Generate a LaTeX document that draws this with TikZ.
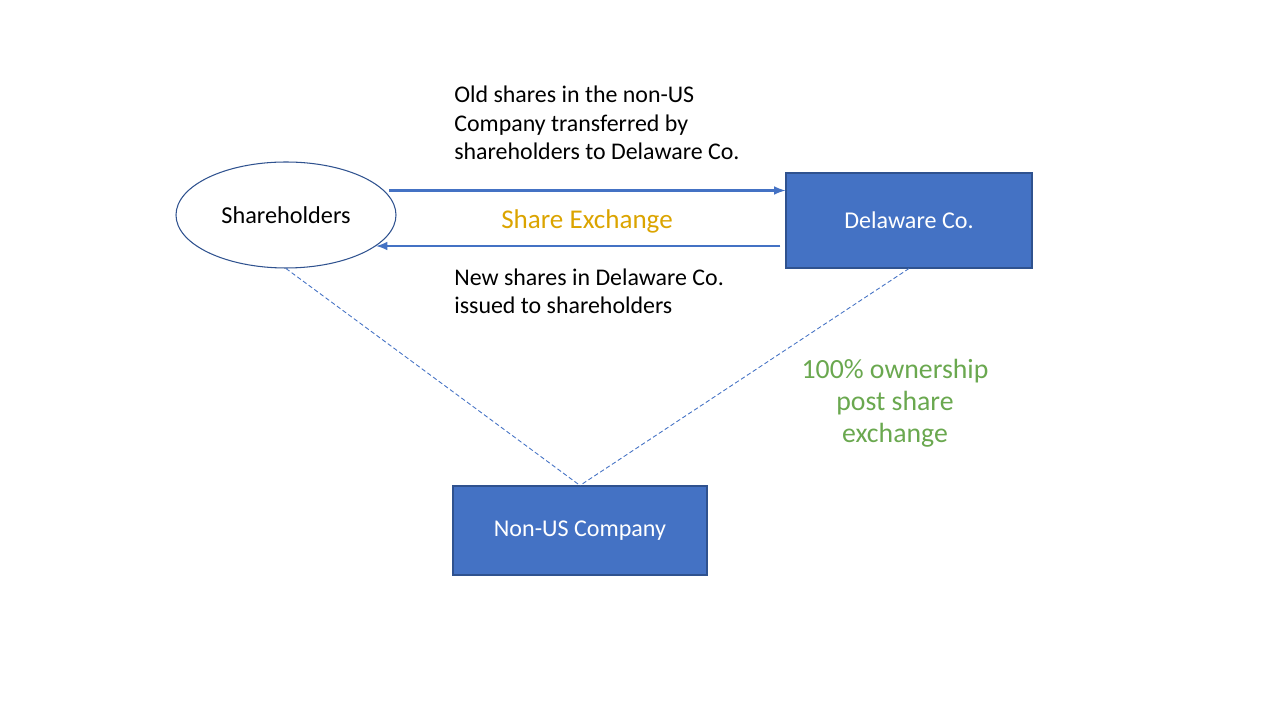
\documentclass[tikz,border=0pt]{standalone}
\usepackage{fontspec}
\setmainfont{Carlito}
\usepackage{tikz}
\usetikzlibrary{shapes.geometric}
\usetikzlibrary{calc}

\definecolor{boxblue}{HTML}{4472C4}
\definecolor{edgeblue}{HTML}{2F528F}
\definecolor{gold}{HTML}{DBA400}
\definecolor{leafgreen}{HTML}{6AA84F}

\begin{document}
\begin{tikzpicture}[
        >=latex,
        company/.style={draw=edgeblue, fill=boxblue, text=white, line width=0.6pt,
                        font=\fontsize{13.7}{16.4}\selectfont},
        flow/.style={->, draw=boxblue, line width=1.2pt},
        owns/.style={draw=boxblue, line width=0.5pt, dash pattern=on 2.5pt off 1.5pt},
        note/.style={inner sep=0pt, align=left, font=\fontsize{13.6}{16.2}\selectfont},
    ]
    \useasboundingbox (0cm, 0cm) rectangle (25.6cm, 14.4cm);

    \node[ellipse, draw=edgeblue, line width=0.6pt, minimum width=4.4cm, minimum height=2.12cm,
          inner sep=0pt, font=\fontsize{13.8}{16.4}\selectfont] (sh) at (5.72cm, 10.1cm) {Shareholders};
    \node[company, minimum width=4.92cm, minimum height=1.9cm] (del) at (18.18cm, 9.99cm) {Delaware Co.};
    \node[company, minimum width=5.08cm, minimum height=1.78cm] (nonus) at (11.6cm, 3.79cm) {Non-US Company};

    \draw[flow, shorten <=0.1cm] (sh.14) -- (sh.14 -| del.west);
    \draw[flow, shorten <=0.1cm] (sh.-19 -| del.west) -- (sh.-19);

    \draw[owns] (sh.south) -- (nonus.north);
    \draw[owns] (del.south) -- (nonus.north);

    \node[note, anchor=west] (oldtxt) at (9.08cm, 11.94cm)
        {Old shares in the non-US\\Company transferred by\\shareholders to Delaware Co.};
    \node[note, anchor=west] (newtxt) at (9.08cm, 8.57cm)
        {New shares in Delaware Co.\\issued to shareholders};
    \node[inner sep=0pt, text=gold, font=\fontsize{15.4}{18}\selectfont] (swap) at (11.74cm, 9.98cm) {Share Exchange};
    \node[inner sep=0pt, align=center, text=leafgreen, font=\fontsize{15.8}{18.1}\selectfont] (stake) at (17.9cm, 6.34cm)
        {100\% ownership\\post share\\exchange};

    \end{tikzpicture}
\end{document}
